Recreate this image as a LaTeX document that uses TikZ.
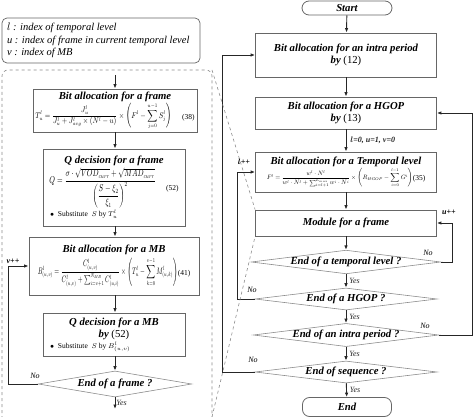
\documentclass[tikz,border=0pt]{standalone}
\usepackage{fontspec}
\setmainfont{Liberation Serif}
\usepackage{amsmath}
\usepackage{graphicx}
\usetikzlibrary{shapes.geometric,arrows.meta}

\tikzset{
  blk/.style={draw=black!60, line width=0.8pt, inner sep=1pt, align=center,
    font=\fontsize{10.7}{12}\selectfont\bfseries\itshape},
  term/.style={draw=black!60, line width=0.8pt, rounded corners=7pt, inner sep=1pt,
    font=\fontsize{10.7}{12}\selectfont\bfseries\itshape},
  decide/.style={diamond, aspect=8, draw=black!45, line width=0.6pt, inner sep=0pt,
    font=\fontsize{10.7}{12}\selectfont\bfseries\itshape},
  flow/.style={-{Latex[length=4.5pt,width=3.5pt]}, line width=0.9pt, black!85},
  callout/.style={draw=black!45, dashed, line width=0.6pt},
  lbl/.style={font=\fontsize{8}{9}\selectfont\itshape, inner sep=1pt},
  inc/.style={font=\fontsize{8}{9}\selectfont\bfseries\itshape, inner sep=1pt},
}
\newcommand{\eqn}[3]{$\vcenter{\hbox{\resizebox*{#1}{#2}{$\displaystyle #3$}}}$}
\newcommand{\eqtag}{\normalfont\fontsize{7.5}{8}\selectfont}
\newcommand{\subf}{\normalfont\fontsize{7.5}{8}\selectfont}

\begin{document}
\begin{tikzpicture}[x=1pt, y=-1pt]
  \useasboundingbox (0,0) rectangle (474,417);

  % legend
  \node[draw=black!60, line width=0.7pt, rounded corners=5pt, minimum width=198pt,
    minimum height=45pt, align=left, inner sep=4pt,
    font=\fontsize{10.5}{12.5}\selectfont\itshape] (key) at (101,40.5)
    {\makebox[188pt][l]{$l$ : index of temporal level}\\
     \makebox[188pt][l]{u : index of frame in current temporal level}\\
     \makebox[188pt][l]{v : index of MB}};

  % main flow
  \node[term, minimum width=90pt, minimum height=14pt] (start) at (347,8) {Start};
  \node[blk, minimum width=181pt, minimum height=44pt] (intra) at (346,55)
    {Bit allocation for an intra period\\by {\normalfont(12)}};
  \node[blk, minimum width=181pt, minimum height=32pt] (hgop) at (346,113)
    {Bit allocation for a HGOP\\by {\normalfont(13)}};
  \node[blk, minimum width=181pt, minimum height=40pt] (tlev) at (346,172)
    {Bit allocation for a Temporal level\\[1pt]
     {\eqn{146pt}{19pt}{F^l=\frac{w^l\cdot N^l}{w^l\cdot N^l+\sum_{i=l+1}^{L_{max}}w^i\cdot N^i}\times
     \left(R_{HGOP}-\sum_{i=0}^{l-1}G^i\right)}\eqtag(35)}};
  \node[blk, minimum width=181pt, minimum height=26pt] (mod) at (346,223)
    {Module for a frame};
  \node[decide, minimum width=182pt, minimum height=22pt] (dtl) at (346,262)
    {End of a temporal level ?};
  \node[decide, minimum width=182pt, minimum height=22pt] (dhgop) at (346,299)
    {End of a HGOP ?};
  \node[decide, minimum width=182pt, minimum height=22pt] (dintra) at (346,335)
    {End of an intra period ?};
  \node[decide, minimum width=182pt, minimum height=22pt] (dseq) at (346,372)
    {End of sequence ?};
  \node[term, minimum width=89pt, minimum height=19pt] (stop) at (347,407) {End};

  \draw[flow] (start) -- (intra);
  \draw[flow] (intra) -- (hgop);
  \draw[flow] (hgop) -- node[inc, right, xshift=3pt] {$\boldsymbol{l}$=0, u=1, v=0} (tlev);
  \draw[flow] (tlev) -- (mod);
  \draw[flow] (mod) -- (dtl);
  \draw[flow] (dtl) -- node[lbl, right, xshift=2pt] {Yes} (dhgop);
  \draw[flow] (dhgop) -- node[lbl, right, xshift=2pt] {Yes} (dintra);
  \draw[flow] (dintra) -- node[lbl, right, xshift=2pt] {Yes} (dseq);
  \draw[flow] (dseq) -- node[lbl, right, xshift=2pt] {Yes} (stop);

  % loops
  \draw[flow] (dtl.east) -- ++(11,0) |- (mod.east);
  \node[lbl] at (428,253) {No};
  \node[inc] at (449,212) {u++};
  \draw[flow] (dhgop.west) -- ++(-17,0) |- (tlev.west);
  \node[lbl] at (252,290) {No};
  \node[inc] at (244,162) {$\boldsymbol{l}$++};
  \draw[flow] (dintra.east) -- ++(34,0) |- (hgop.east);
  \node[lbl] at (425,326) {No};
  \draw[flow] (dseq.west) -- ++(-32,0) |- (intra.west);
  \node[lbl] at (253,360) {No};

  % zoomed module
  \coordinate (zt) at (212,70);
  \coordinate (zb) at (212,417);
  \draw[callout, rounded corners=6pt] (2,425) -- (2,70) -- (zt) -- (212,425);
  \draw[callout] (zt) -- (mod.north west);
  \draw[callout] (zb) -- (mod.south west);

  \coordinate (fin) at (115,75);
  \node[blk, minimum width=164pt, minimum height=43pt] (frame) at (115,110.5)
    {Bit allocation for a frame\\[1pt]
     {\eqn{136pt}{26pt}{T_u^l=\frac{J_u^l}{J_u^l+J_{avg}^l\times\left(N^l-u\right)}\times
     \left(F^l-\sum_{j=0}^{u-1}S_j^l\right)}\quad\eqtag(38)}};
  \node[blk, minimum width=142pt, minimum height=77pt] (qframe) at (114,187.5)
    {Q decision for a frame\\[1pt]
     {\eqn{106pt}{40pt}{Q=\frac{\sigma\cdot\sqrt{VOD_{curr}}+\sqrt{MAD_{curr}}}
     {\left(\dfrac{S-\xi_2}{\xi_1}\right)^2}}\quad\eqtag(52)}\\[1pt]
     {\subf\makebox[128pt][l]{$\bullet$\ \ Substitute\ \ $S$\ by\ $T_u^l$}}};
  \node[blk, minimum width=170pt, minimum height=58pt] (mb) at (114,266)
    {Bit allocation for a MB\\[2pt]
     {\eqn{140pt}{29pt}{B^l_{(u,v)}=\frac{C^l_{(u,v)}}{C^l_{(u,v)}+\sum_{i=v+1}^{N_{MB}}C^l_{(u,i)}}\times
     \left(T^l_u-\sum_{k=0}^{v-1}M^l_{(u,k)}\right)}\eqtag(41)}};
  \node[blk, minimum width=142pt, minimum height=43pt] (qmb) at (114,334.5)
    {Q decision for a MB\\by {\normalfont(52)}\\[-1pt]
     {\subf\makebox[128pt][l]{$\bullet$\ \ Substitute\ \ $S$\ by\ $B^l_{(u,v)}$}}};
  \node[decide, minimum width=140pt, minimum height=26pt] (dframe) at (115,384)
    {End of a frame ?};
  \coordinate (fout) at (115,409);

  \draw[flow] (fin) -- (frame);
  \draw[flow] (frame.south -| fin) -- (qframe.north -| fin);
  \draw[flow] (qframe.south -| fin) -- (mb.north -| fin);
  \draw[flow] (mb.south -| fin) -- (qmb.north -| fin);
  \draw[flow] (qmb.south -| fin) -- (dframe);
  \draw[flow] (dframe) -- node[lbl, right] {Yes} (fout);
  \draw[flow] (dframe.west) -- ++(-30,0) |- (mb.west);
  \node[lbl] at (35,376) {No};
  \node[inc] at (13,261) {v++};
\end{tikzpicture}
\end{document}
